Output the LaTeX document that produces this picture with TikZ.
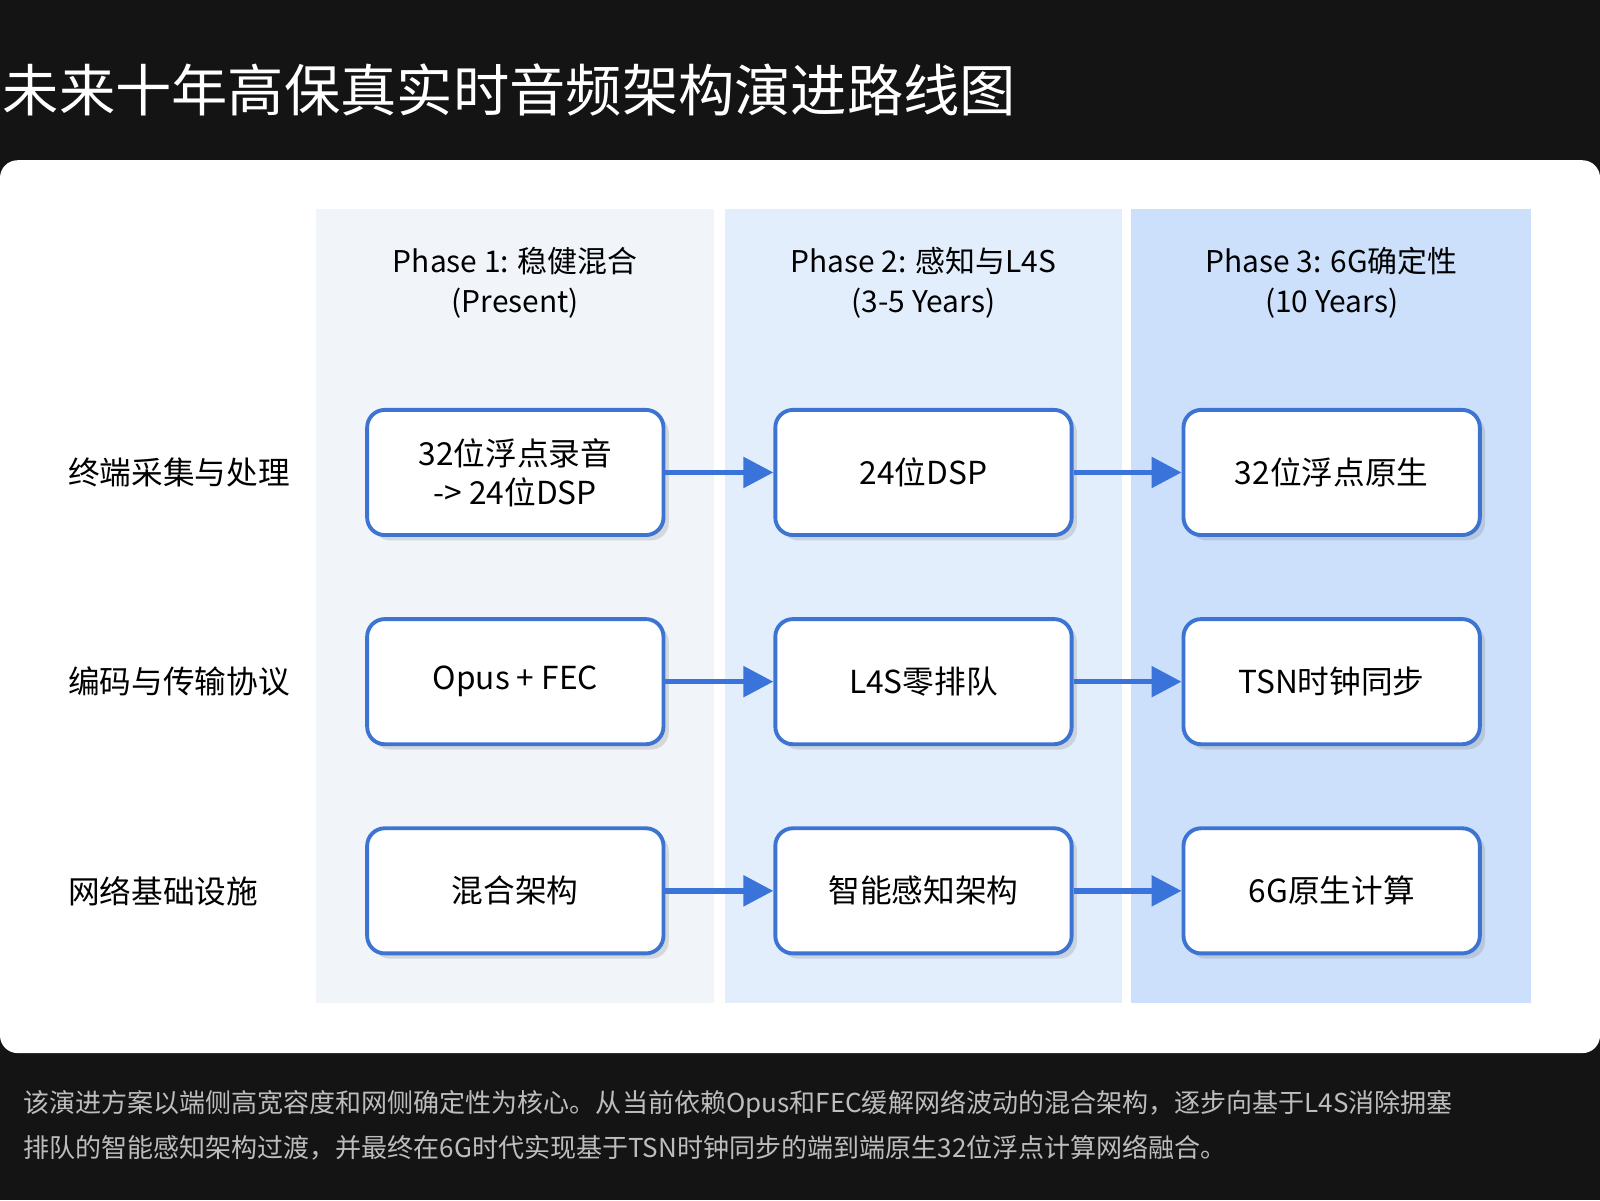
\documentclass[tikz,border=0pt]{standalone}
\usepackage{fontspec}
\setmainfont{Noto Sans CJK SC}
\usepackage{xcolor}
\usetikzlibrary{positioning, arrows.meta, shadows}
\definecolor{pageBg}{HTML}{141414}
\definecolor{bandA}{HTML}{F1F5FA}
\definecolor{bandB}{HTML}{E3EEFD}
\definecolor{bandC}{HTML}{CCE0FB}
\definecolor{boxBlue}{HTML}{3D74D2}
\definecolor{arrowBlue}{HTML}{3A74DB}
\definecolor{capGray}{HTML}{BDBDBD}
\tikzset{
    % 方框
    stage/.style={
        rectangle,
        rounded corners=5pt,
        draw=boxBlue,
        line width=1.1pt,
        fill=white,
        minimum width=2.96cm,
        minimum height=1.25cm,
        align=center,
        font=\fontsize{9}{11}\selectfont,
        drop shadow={opacity=0.25, shadow xshift=1.5pt, shadow yshift=-1.5pt}
    },
    % 箭头
    flow/.style={
        -{Triangle[length=3mm, width=3mm]},
        draw=arrowBlue,
        line width=1.6pt
    },
    rowlabel/.style={anchor=west, inner sep=0pt, font=\fontsize{9}{11}\selectfont},
    phase/.style={align=center, font=\fontsize{8.5}{11.5}\selectfont}
}
\begin{document}
\begin{tikzpicture}[x=0.0102cm, y=-0.0102cm]
    \useasboundingbox (0,0) rectangle (1568,1176);
    \fill[pageBg] (0,0) rectangle (1568,1176);
    \node[anchor=west, inner sep=0pt, white, font=\fontsize{16}{18}\selectfont] (title) at (2,88) {未来十年高保真实时音频架构演进路线图};
    \fill[white, rounded corners=5pt] (0,157) rectangle (1568,1032);

    % Bands
    \fill[bandA] (310,205) rectangle (700,983);
    \fill[bandB] (710,205) rectangle (1100,983);
    \fill[bandC] (1108,205) rectangle (1500,983);

    % Headers
    \node[phase] (h1) at (505,277) {Phase 1: 稳健混合\\(Present)};
    \node[phase] (h2) at (905,277) {Phase 2: 感知与L4S\\(3-5 Years)};
    \node[phase] (h3) at (1305,277) {Phase 3: 6G确定性\\(10 Years)};

    % Rows
    \node[rowlabel] (l1) at (66,463) {终端采集与处理};
    \node[rowlabel] (l2) at (66,668) {编码与传输协议};
    \node[rowlabel] (l3) at (66,873) {网络基础设施};

    \node[stage] (a1) at (505,463) {32位浮点录音\\-> 24位DSP};
    \node[stage] (a2) at (905,463) {24位DSP};
    \node[stage] (a3) at (1305,463) {32位浮点原生};
    \node[stage] (b1) at (505,668) {Opus + FEC};
    \node[stage] (b2) at (905,668) {L4S零排队};
    \node[stage] (b3) at (1305,668) {TSN时钟同步};
    \node[stage] (c1) at (505,873) {混合架构};
    \node[stage] (c2) at (905,873) {智能感知架构};
    \node[stage] (c3) at (1305,873) {6G原生计算};

    % Arrows
    \draw[flow] (a1) -- (a2); \draw[flow] (a2) -- (a3);
    \draw[flow] (b1) -- (b2); \draw[flow] (b2) -- (b3);
    \draw[flow] (c1) -- (c2); \draw[flow] (c2) -- (c3);

    % Caption
    \node[anchor=north west, inner sep=0pt, capGray, align=left, font=\fontsize{7.4}{12.6}\selectfont] (cap) at (22,1068)
        {该演进方案以端侧高宽容度和网侧确定性为核心。从当前依赖Opus和FEC缓解网络波动的混合架构，逐步向基于L4S消除拥塞\\排队的智能感知架构过渡，并最终在6G时代实现基于TSN时钟同步的端到端原生32位浮点计算网络融合。};
\end{tikzpicture}
\end{document}
